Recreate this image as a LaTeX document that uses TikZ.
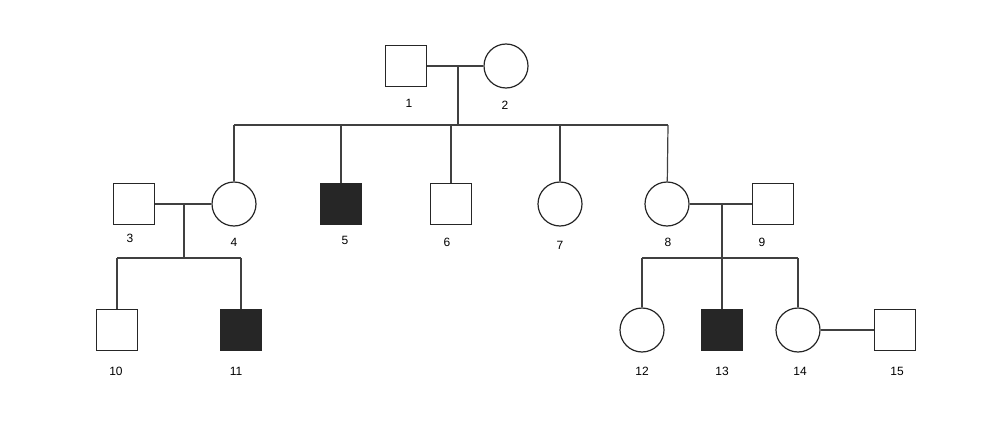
\documentclass[tikz,border=0pt]{standalone}
\usepackage{fontspec}
\setmainfont{Liberation Sans}
\begin{document}
\begin{tikzpicture}[x=1pt,y=-1pt,
  male/.style={draw=black!85,line width=1.2pt,minimum size=41pt,inner sep=0pt,fill=white},
  female/.style={draw=black!85,line width=1.2pt,circle,minimum size=44pt,inner sep=0pt,fill=white},
  aff/.style={fill=black!85},
  lab/.style={font=\fontsize{12}{14}\selectfont},
  ln/.style={draw=black!75,line width=1.2pt}]
\useasboundingbox (0,0) rectangle (988,428);
\node[male] (p1) at (406,66) {};
\node[female] (p2) at (506,66) {};
\node[male] (p3) at (134,204) {};
\node[female] (p4) at (234,204) {};
\node[male,aff] (p5) at (341,204) {};
\node[male] (p6) at (451,204) {};
\node[female] (p7) at (560,204) {};
\node[female] (p8) at (667,204) {};
\node[male] (p9) at (773,204) {};
\node[male] (p10) at (117,330) {};
\node[male,aff] (p11) at (241,330) {};
\node[female] (p12) at (642,330) {};
\node[male,aff] (p13) at (722,330) {};
\node[female] (p14) at (798,330) {};
\node[male] (p15) at (895,330) {};
\foreach \n/\x/\y in {1/409/103,2/505/105,3/130/238,4/234/242,5/345/240,6/447/242,7/560/245,8/668/242,9/762/242,10/116/371,11/236/371,12/642/371,13/722/371,14/800/371,15/897/371}
  \node[lab] (l\n) at (\x,\y) {\n};
\coordinate (m12) at (458,66);
\coordinate (s1) at (458,125);
\coordinate (s1l) at (234,125);
\coordinate (s1r) at (668,125);
\draw[ln] (p1) -- (p2);
\draw[ln] (m12) -- (s1);
\draw[ln] (s1l) -- (s1r);
\draw[ln] (s1l) -- (p4);
\draw[ln] (341,125) -- (p5);
\draw[ln] (451,125) -- (p6);
\draw[ln] (560,125) -- (p7);
\draw[ln] (s1r) -- (p8);
\coordinate (m34) at (184,204);
\coordinate (s2) at (184,258);
\draw[ln] (p3) -- (p4);
\draw[ln] (m34) -- (s2);
\draw[ln] (117,258) -- (241,258);
\draw[ln] (117,258) -- (p10);
\draw[ln] (241,258) -- (p11);
\coordinate (m89) at (722,204);
\draw[ln] (p8) -- (p9);
\draw[ln] (m89) -- (p13);
\draw[ln] (642,258) -- (798,258);
\draw[ln] (642,258) -- (p12);
\draw[ln] (798,258) -- (p14);
\draw[ln] (p14) -- (p15);
\end{tikzpicture}
\end{document}
